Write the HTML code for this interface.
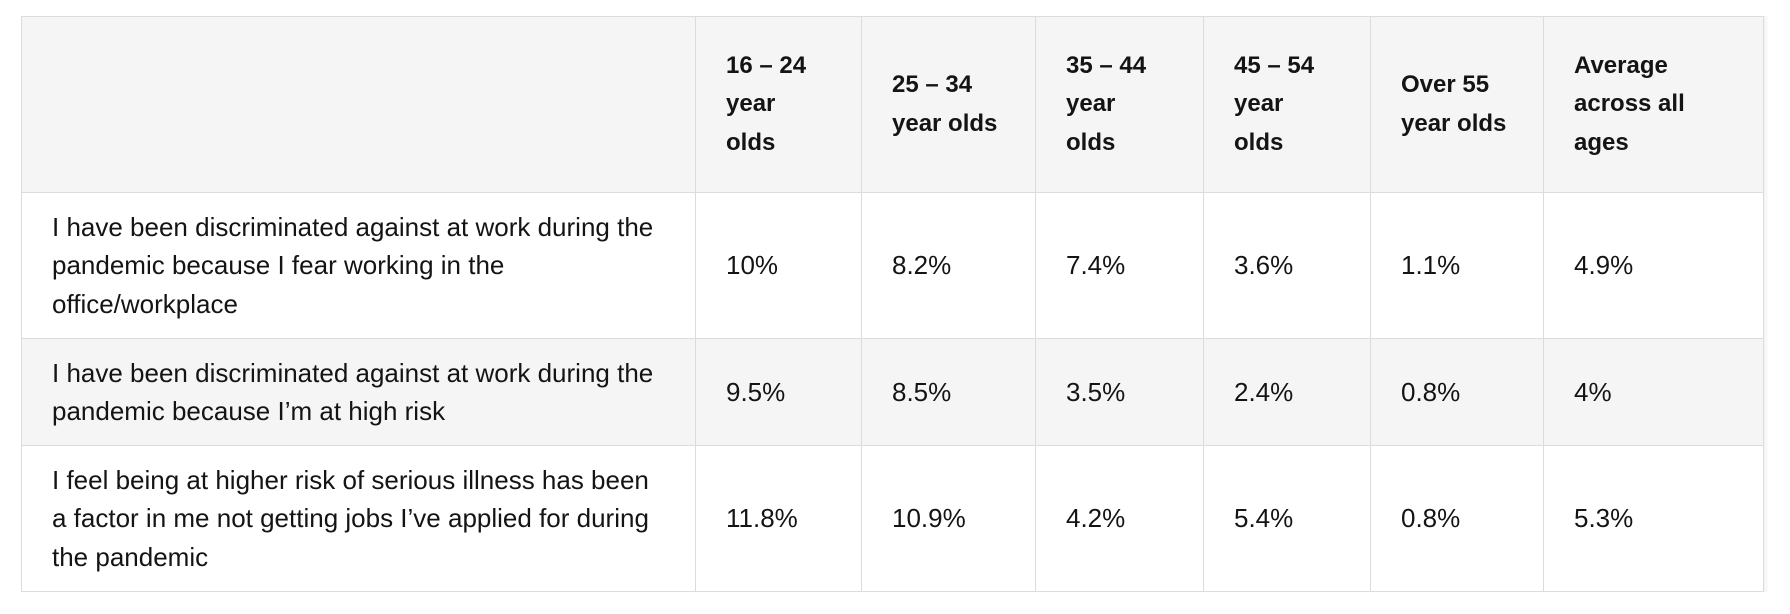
<!DOCTYPE html>
<html>
<head>
<meta charset="utf-8">
<style>
  html, body { margin:0; padding:0; background:#fff; }
  body { width:1790px; height:614px; position:relative; overflow:hidden;
         font-family:"Liberation Sans", Arial, sans-serif; color:#141414; }
  .bg { position:absolute; background:#f5f5f5; }
  .h { position:absolute; height:1px; background:#dcdcdc; }
  .v { position:absolute; width:1px; background:#dcdcdc; }
  .cell { position:absolute; display:flex; align-items:center; box-sizing:border-box;
          padding-left:30px; white-space:nowrap; }
  .hd { font-weight:bold; font-size:24px; line-height:38.4px; }
  .bd { font-size:26px; line-height:38.4px; }
</style>
</head>
<body>
  <!-- backgrounds -->
  <div class="bg" style="left:21px; top:16px; width:1743px; height:176px;"></div>
  <div class="bg" style="left:21px; top:338px; width:1743px; height:108px;"></div>
  <!-- faint shadow right -->
  <div style="position:absolute; left:1764px; top:16px; width:5px; height:576px; background:linear-gradient(to right, #f3f3f3, #fff);"></div>

  <!-- horizontal lines -->
  <div class="h" style="left:21px; top:16px; width:1743px;"></div>
  <div class="h" style="left:21px; top:192px; width:1743px;"></div>
  <div class="h" style="left:21px; top:338px; width:1743px;"></div>
  <div class="h" style="left:21px; top:445px; width:1743px;"></div>
  <div class="h" style="left:21px; top:591px; width:1743px;"></div>
  <!-- vertical lines -->
  <div class="v" style="left:21px; top:16px; height:576px;"></div>
  <div class="v" style="left:695px; top:16px; height:576px;"></div>
  <div class="v" style="left:861px; top:16px; height:576px;"></div>
  <div class="v" style="left:1035px; top:16px; height:576px;"></div>
  <div class="v" style="left:1203px; top:16px; height:576px;"></div>
  <div class="v" style="left:1370px; top:16px; height:576px;"></div>
  <div class="v" style="left:1543px; top:16px; height:576px;"></div>
  <div class="v" style="left:1763px; top:16px; height:576px;"></div>

  <!-- header -->
  <div class="cell hd" style="left:696px; top:17px; width:165px; height:175px;"><div>16 – 24<br>year<br>olds</div></div>
  <div class="cell hd" style="left:862px; top:17px; width:173px; height:175px;"><div>25 – 34<br>year olds</div></div>
  <div class="cell hd" style="left:1036px; top:17px; width:167px; height:175px;"><div>35 – 44<br>year<br>olds</div></div>
  <div class="cell hd" style="left:1204px; top:17px; width:166px; height:175px;"><div>45 – 54<br>year<br>olds</div></div>
  <div class="cell hd" style="left:1371px; top:17px; width:172px; height:175px;"><div>Over 55<br>year olds</div></div>
  <div class="cell hd" style="left:1544px; top:17px; width:219px; height:175px;"><div>Average<br>across all<br>ages</div></div>

  <!-- row 1 -->
  <div class="cell bd" style="left:22px; top:193px; width:673px; height:145px;"><div>I have been discriminated against at work during the<br>pandemic because I fear working in the<br>office/workplace</div></div>
  <div class="cell bd" style="left:696px; top:193px; width:165px; height:145px;">10%</div>
  <div class="cell bd" style="left:862px; top:193px; width:173px; height:145px;">8.2%</div>
  <div class="cell bd" style="left:1036px; top:193px; width:167px; height:145px;">7.4%</div>
  <div class="cell bd" style="left:1204px; top:193px; width:166px; height:145px;">3.6%</div>
  <div class="cell bd" style="left:1371px; top:193px; width:172px; height:145px;">1.1%</div>
  <div class="cell bd" style="left:1544px; top:193px; width:219px; height:145px;">4.9%</div>

  <!-- row 2 -->
  <div class="cell bd" style="left:22px; top:339px; width:673px; height:106px;"><div>I have been discriminated against at work during the<br>pandemic because I’m at high risk</div></div>
  <div class="cell bd" style="left:696px; top:339px; width:165px; height:106px;">9.5%</div>
  <div class="cell bd" style="left:862px; top:339px; width:173px; height:106px;">8.5%</div>
  <div class="cell bd" style="left:1036px; top:339px; width:167px; height:106px;">3.5%</div>
  <div class="cell bd" style="left:1204px; top:339px; width:166px; height:106px;">2.4%</div>
  <div class="cell bd" style="left:1371px; top:339px; width:172px; height:106px;">0.8%</div>
  <div class="cell bd" style="left:1544px; top:339px; width:219px; height:106px;">4%</div>

  <!-- row 3 -->
  <div class="cell bd" style="left:22px; top:446px; width:673px; height:145px;"><div>I feel being at higher risk of serious illness has been<br>a factor in me not getting jobs I’ve applied for during<br>the pandemic</div></div>
  <div class="cell bd" style="left:696px; top:446px; width:165px; height:145px;">11.8%</div>
  <div class="cell bd" style="left:862px; top:446px; width:173px; height:145px;">10.9%</div>
  <div class="cell bd" style="left:1036px; top:446px; width:167px; height:145px;">4.2%</div>
  <div class="cell bd" style="left:1204px; top:446px; width:166px; height:145px;">5.4%</div>
  <div class="cell bd" style="left:1371px; top:446px; width:172px; height:145px;">0.8%</div>
  <div class="cell bd" style="left:1544px; top:446px; width:219px; height:145px;">5.3%</div>
</body>
</html>
